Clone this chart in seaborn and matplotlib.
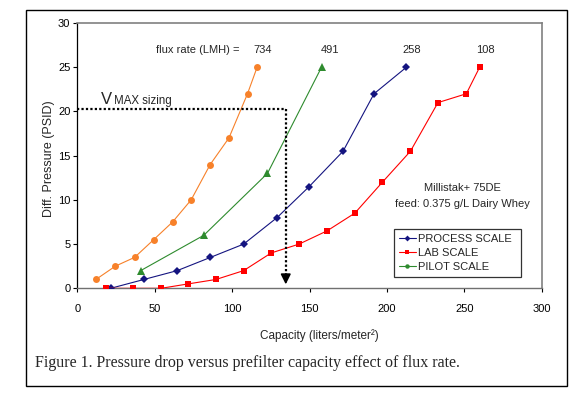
import matplotlib
matplotlib.use("Agg")
import matplotlib.pyplot as plt
import matplotlib.patches as mpatches
from matplotlib.lines import Line2D
import numpy as np
import pandas as pd
import seaborn as sns

# flux 734 LMH (orange, not in legend)
cap_734 = [12, 24.5, 37, 49.3, 61.5, 73.5, 85.8, 97.9, 109.9, 116.1]
dp_734 = [1, 2.5, 3.5, 5.5, 7.5, 10, 14, 17, 22, 25]

# flux 491 LMH - pilot scale
cap_pilot = [40.9, 81.7, 122.8, 157.7]
dp_pilot = [2, 6, 13, 25]

# flux 258 LMH - process scale
cap_process = [21.5, 43, 64.5, 86, 107.4, 129, 149.7, 171.6, 191.6, 212.5]
dp_process = [0, 1, 2, 3.5, 5, 8, 11.5, 15.5, 22, 25]

# flux 108 LMH - lab scale
cap_lab = [18.3, 36.1, 54, 71.6, 89.5, 107.4, 125.2, 143.2, 161.3, 179.2,
           197, 215.1, 232.9, 251.2, 259.8]
dp_lab = [0, 0, 0, 0.5, 1, 2, 4, 5, 6.5, 8.5, 12, 15.5, 21, 22, 25]

flux_labels = ["734", "491", "258", "108"]
flux_label_x = [119.6, 163, 216, 263.7]

vmax_dp = 20.3
vmax_cap = 134.6

SANS = "Liberation Sans"
SERIF = "Liberation Serif"

sns.set_style("white")
plt.rcParams["font.family"] = [SANS, "DejaVu Sans"]

fig = plt.figure(figsize=(5.84, 4.05), dpi=100)
ax = fig.add_axes([0.1324, 0.2881, 0.7955, 0.6551])

series = [
    (cap_734, dp_734, "#F7812A", "o", 5.0, "_734"),
    (cap_pilot, dp_pilot, "#2E8B2E", "^", 5.2, "PILOT SCALE"),
    (cap_process, dp_process, "#141480", "D", 3.6, "PROCESS SCALE"),
    (cap_lab, dp_lab, "#FF0000", "s", 5.0, "LAB SCALE"),
]
for cap, dp, color, marker, ms, name in series:
    df = pd.DataFrame({"cap": cap, "dp": dp})
    sns.lineplot(data=df, x="cap", y="dp", ax=ax, color=color, marker=marker,
                 markersize=ms, markeredgewidth=0, linewidth=0.8, sort=False,
                 legend=False, zorder=3)

# V max sizing guide
ax.plot([0, vmax_cap], [vmax_dp, vmax_dp], color="black", linestyle=(0, (1, 1)),
        linewidth=1.6, zorder=4)
ax.plot([vmax_cap, vmax_cap], [vmax_dp, 1.2], color="black", linestyle=(0, (1, 1)),
        linewidth=1.6, zorder=4)
ax.annotate("", xy=(vmax_cap, 0.45), xytext=(vmax_cap, 1.6),
            arrowprops=dict(arrowstyle="-|>,head_length=0.6,head_width=0.3",
                            color="black", lw=1.2, shrinkA=0, shrinkB=0), zorder=5)
ax.text(15.5, 20.85, "V", fontsize=12, va="baseline", ha="left", family=SANS)
ax.text(23.9, 20.85, "MAX sizing", fontsize=8.3, va="baseline", ha="left", family=SANS)

ax.text(50.5, 26.9, "flux rate (LMH) =", fontsize=8, va="center", ha="left")
for lab, xpos in zip(flux_labels, flux_label_x):
    ax.text(xpos, 26.9, lab, fontsize=8, va="center", ha="center")

ax.text(249, 11.35, "Millistak+ 75DE", fontsize=8, va="center", ha="center")
ax.text(249, 9.5, "feed: 0.375 g/L Dairy Whey", fontsize=8, va="center", ha="center")

handles = [
    Line2D([], [], color="#141480", marker="D", markersize=3, linewidth=0.8, markeredgewidth=0),
    Line2D([], [], color="#FF0000", marker="s", markersize=2.6, linewidth=0.8, markeredgewidth=0),
    Line2D([], [], color="#2E8B2E", marker="o", markersize=3.2, linewidth=0.8, markeredgewidth=0),
]
leg = ax.legend(handles, ["PROCESS SCALE", "LAB SCALE", "PILOT SCALE"],
                loc="lower left", bbox_to_anchor=(0.682, 0.043, 0.274, 0.2),
                mode="expand", borderaxespad=0, fontsize=8, frameon=True,
                fancybox=False, handlelength=1.5, handletextpad=0.2,
                labelspacing=0.35, borderpad=0.45)
leg.get_frame().set_edgecolor("black")
leg.get_frame().set_linewidth(0.9)

ax.set_xlim(0, 300)
ax.set_ylim(0, 30)
ax.set_xticks(np.arange(0, 301, 50))
ax.set_yticks(np.arange(0, 31, 5))
ax.tick_params(axis="both", labelsize=8, direction="out", length=3, width=0.8,
               colors="black", pad=2, bottom=True, left=True)
ax.tick_params(axis="x", pad=8)
ax.set_xlabel("Capacity (liters/meter\u00b2)", fontsize=8.5)
ax.set_ylabel("Diff. Pressure (PSID)", fontsize=9)
ax.xaxis.set_label_coords(0.522, -0.154)
ax.yaxis.set_label_coords(-0.049, 0.49)

for side in ["top", "right"]:
    ax.spines[side].set_color("#808080")
    ax.spines[side].set_linewidth(1.2)
ax.spines["left"].set_color("black")
ax.spines["left"].set_linewidth(0.9)
ax.spines["bottom"].set_color("#707070")
ax.spines["bottom"].set_linewidth(1.0)

# outer frame and caption
fig.patches.append(mpatches.Rectangle((25.5 / 584, 1 - 386 / 405), (567 - 25.5) / 584,
                                      (386 - 10) / 405, transform=fig.transFigure,
                                      fill=False, edgecolor="black", linewidth=1.0))
fig.text(35 / 584, 1 - 363 / 405, "Figure 1. Pressure drop versus prefilter capacity effect of flux rate.",
         fontsize=11.5, family=SERIF, va="center", ha="left")

fig.savefig("out.png", dpi=100)
